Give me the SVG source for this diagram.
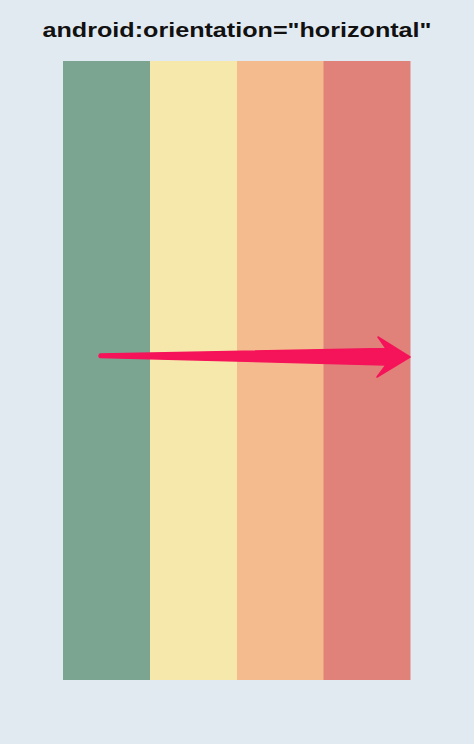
<svg xmlns="http://www.w3.org/2000/svg" width="474" height="744" viewBox="0 0 474 744">
<style>
.title{font-family:"Liberation Sans","DejaVu Sans",sans-serif;font-size:21px;font-weight:bold;fill:#111}
.col{stroke:none}
.arrow{fill:#F5135A;stroke:#F5135A;stroke-width:1.5;stroke-linejoin:round}
</style>
<rect width="474" height="744" fill="#E2EAF1"/>
<g id="title"><text class="title" x="237" y="37" text-anchor="middle" textLength="389" lengthAdjust="spacingAndGlyphs">android:orientation="horizontal"</text></g>
<g id="col1"><rect class="col" x="63" y="61" width="87.5" height="619" fill="#7BA590"/></g>
<g id="col2"><rect class="col" x="150" y="61" width="87.5" height="619" fill="#F5E8AA"/></g>
<g id="col3"><rect class="col" x="237" y="61" width="87" height="619" fill="#F4BB8E"/></g>
<g id="col4"><rect class="col" x="323.5" y="61" width="87" height="619" fill="#E0817A"/></g>
<g id="connectors">
<path class="arrow" d="M100,354 L386,348.5 L378,337 L410,357 L377,377 L386,365 L100,357.5 Q98,356 100,354 Z"/>
</g>
</svg>
